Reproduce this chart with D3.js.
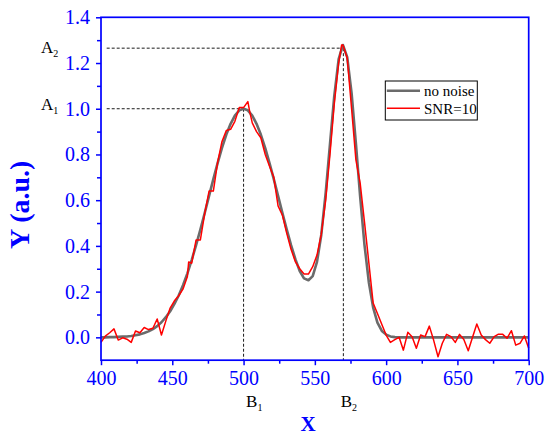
<!DOCTYPE html>
<html><head><meta charset="utf-8">
<script src="https://cdn.jsdelivr.net/npm/d3@7"></script>
<style>
body{margin:0;background:#fff}svg{display:block}
svg text{font-family:"Liberation Serif","Times New Roman","DejaVu Serif",serif}
</style>
</head><body>
<svg id="c" width="550" height="439"></svg>
<script>
// ---------- data ----------
const xTicks = [400, 450, 500, 550, 600, 650, 700];
const xMinorTicks = [425, 475, 525, 575, 625, 675];
const yTicks = [0.0, 0.2, 0.4, 0.6, 0.8, 1.0, 1.2, 1.4];
const yTickLabels = ["0.0", "0.2", "0.4", "0.6", "0.8", "1.0", "1.2", "1.4"];
const yMinorTicks = [0.1, 0.3, 0.5, 0.7, 0.9, 1.1, 1.3];

const gridX = [400.0,403.0,406.1,409.1,412.1,415.2,418.2,421.2,424.2,427.3,430.3,433.3,436.4,439.4,442.4,445.5,448.5,451.5,454.5,457.6,
  460.6,463.6,466.7,469.7,472.7,475.8,478.8,481.8,484.8,487.9,490.9,493.9,497.0,500.0,503.0,506.1,509.1,512.1,515.2,518.2,
  521.2,524.2,527.3,530.3,533.3,536.4,539.4,542.4,545.5,548.5,551.5,554.5,557.6,560.6,563.6,566.7,569.7,572.7,575.8,578.8,
  581.8,584.8,587.9,590.9,593.9,597.0,600.0,603.0,606.1,609.1,612.1,615.2,618.2,621.2,624.2,627.3,630.3,633.3,636.4,639.4,
  642.4,645.5,648.5,651.5,654.5,657.6,660.6,663.6,666.7,669.7,672.7,675.8,678.8,681.8,684.8,687.9,690.9,693.9,697.0,700.0];
const noNoise = [0.000,0.000,0.001,0.001,0.002,0.003,0.004,0.006,0.009,0.013,0.019,0.026,0.036,0.049,0.066,0.088,0.114,0.146,0.183,0.229,
  0.280,0.338,0.403,0.471,0.543,0.619,0.692,0.762,0.828,0.887,0.934,0.970,0.993,1.000,0.993,0.970,0.934,0.887,0.828,0.762,
  0.692,0.619,0.543,0.471,0.403,0.341,0.290,0.258,0.250,0.268,0.330,0.448,0.632,0.844,1.054,1.217,1.279,1.226,1.066,0.848,
  0.614,0.406,0.240,0.130,0.064,0.028,0.012,0.004,0.001,0.000,0.000,0.000,0.000,0.000,0.000,0.000,0.000,0.000,0.000,0.000,
  0.000,0.000,0.000,0.000,0.000,0.000,0.000,0.000,0.000,0.000,0.000,0.000,0.000,0.000,0.000,0.000,0.000,0.000,0.000,0.000];

const snrX = [400.0,403.0,406.1,409.1,412.1,415.2,418.2,421.2,424.2,427.3,430.3,433.3,436.4,439.4,442.4,445.5,448.5,451.5,454.5,457.6,
  460.6,461.5,463.6,466.7,469.7,472.7,475.8,478.8,481.8,484.8,487.9,490.9,493.9,497.0,500.0,503.0,504.5,506.1,509.1,512.1,515.2,518.2,
  521.2,524.2,527.3,530.3,533.3,536.4,539.4,542.4,545.5,548.5,551.5,554.5,557.6,560.6,563.6,566.7,568.8,569.7,572.7,575.8,578.8,
  581.8,584.8,587.9,590.9,593.9,597.0,600.0,603.0,606.1,609.1,612.1,615.2,618.2,621.2,624.2,627.3,630.3,633.3,636.4,639.4,
  642.4,645.5,648.5,651.5,654.5,657.6,660.6,663.6,666.7,669.7,672.7,675.8,678.8,681.8,684.8,687.9,690.9,693.9,697.0,700.0];
const snr10 = [-0.022,0.005,0.020,0.037,-0.012,-0.002,-0.008,-0.022,0.028,0.020,0.043,0.034,0.040,0.080,0.010,0.072,0.128,0.160,0.182,0.212,
  0.266,0.330,0.324,0.426,0.426,0.540,0.640,0.640,0.765,0.855,0.905,0.910,0.945,1.005,1.005,1.031,0.982,0.938,0.900,0.873,0.800,0.748,
  0.700,0.575,0.533,0.455,0.385,0.330,0.300,0.277,0.277,0.309,0.360,0.450,0.600,0.800,1.020,1.200,1.279,1.279,1.222,0.998,0.776,
  0.674,0.505,0.325,0.150,0.104,0.056,0.010,-0.022,-0.010,0.000,-0.056,0.022,0.003,-0.048,0.010,0.003,0.049,-0.012,-0.085,-0.026,
  0.013,0.003,-0.022,0.013,-0.009,-0.059,0.000,0.058,0.010,-0.010,-0.026,0.003,0.014,0.013,-0.004,0.029,-0.034,-0.026,0.006,-0.048];

const seriesNames = ["no noise", "SNR=10"];
const peaks = [
  {name: "A", sub: "1", bname: "B", bsub: "1", x: 500, y: 1.0},
  {name: "A", sub: "2", bname: "B", bsub: "2", x: 570, y: 1.265}
];

// ---------- drawing ----------
const svg = d3.select("#c");
const L = 101, R = 528.7, T = 17.3, B = 360.2;
const x = d3.scaleLinear().domain([400, 700]).range([L, R]);
const y = d3.scaleLinear().domain([-0.1, 1.4]).range([B, T]);
const blue = "#0000ff";
const FONT = '"Liberation Serif","Times New Roman","DejaVu Serif",serif';

svg.append("rect").attr("width", 550).attr("height", 439).attr("fill", "#fff");

// dashed guides
const guides = svg.append("g").attr("stroke", "#000").attr("stroke-width", 0.9)
  .attr("stroke-dasharray", "3,2").attr("fill", "none");
peaks.forEach(p => {
  guides.append("line").attr("x1", x(404)).attr("x2", x(p.x)).attr("y1", y(p.y)).attr("y2", y(p.y));
  guides.append("line").attr("x1", x(p.x)).attr("x2", x(p.x)).attr("y1", y(p.y)).attr("y2", B);
});

// lines
const line = d3.line().x(d => x(d[0])).y(d => y(d[1]));
svg.append("path").datum(gridX.map((v, i) => [v, noNoise[i]]))
  .attr("d", line).attr("fill", "none").attr("stroke", "#6b6b6b").attr("stroke-width", 2.6)
  .attr("stroke-linejoin", "round");
svg.append("path").datum(snrX.map((v, i) => [v, snr10[i]]))
  .attr("d", line).attr("fill", "none").attr("stroke", "#ff0000").attr("stroke-width", 1.5)
  .attr("stroke-linejoin", "round");

// axes
const xAxis = d3.axisBottom(x).tickValues(xTicks).tickSize(5).tickPadding(6).tickFormat(d3.format("d"));
const xMinor = d3.axisBottom(x).tickValues(xMinorTicks).tickSize(3.5).tickFormat("");
const yAxis = d3.axisLeft(y).tickValues(yTicks).tickSize(5).tickPadding(6)
  .tickFormat((d, i) => yTickLabels[i]);
const yMinor = d3.axisLeft(y).tickValues(yMinorTicks).tickSize(4).tickFormat("");

function styleAxis(g) {
  g.attr("font-family", FONT).attr("font-size", 20);
  g.select(".domain").remove();
  g.selectAll("line").attr("stroke", blue).attr("stroke-width", 1.5);
  g.selectAll("text").attr("fill", blue).attr("font-family", FONT).style("font-size", "20px");
}
svg.append("g").attr("transform", `translate(0,${B})`).call(xAxis).call(styleAxis);
svg.append("g").attr("transform", `translate(0,${B})`).call(xMinor).call(styleAxis);
svg.append("g").attr("transform", `translate(${L},0)`).call(yAxis).call(styleAxis);
svg.append("g").attr("transform", `translate(${L},0)`).call(yMinor).call(styleAxis);

// frame
svg.append("rect").attr("x", L).attr("y", T).attr("width", R - L).attr("height", B - T)
  .attr("fill", "none").attr("stroke", blue).attr("stroke-width", 1.7);

// axis titles
svg.append("text").attr("transform", `translate(29,${(T + B) / 2 + 16}) rotate(-90)`)
  .attr("text-anchor", "middle").attr("fill", blue).attr("font-family", FONT)
  .style("font-size", "28px").style("font-weight", "bold")
  .text("Y (a.u.)");
svg.append("text").attr("x", 308).attr("y", 431).attr("text-anchor", "middle").attr("fill", blue)
  .attr("font-family", FONT).style("font-size", "21px").style("font-weight", "bold")
  .text("X");

// annotations
peaks.forEach((p, i) => {
  const ta = svg.append("text").attr("x", 41).attr("y", y(p.y) + (i === 0 ? 1 : 4.5))
    .attr("font-family", FONT).style("font-size", "17px").attr("fill", "#000");
  ta.append("tspan").text(p.name);
  ta.append("tspan").attr("dy", 4).style("font-size", "10px").text(p.sub);
  const tb = svg.append("text").attr("x", x(p.x) + (i === 0 ? 2.5 : -2.7)).attr("y", 406.5)
    .attr("font-family", FONT).style("font-size", "17px").attr("fill", "#000");
  tb.append("tspan").text(p.bname);
  tb.append("tspan").attr("dy", 4).style("font-size", "10px").text(p.bsub);
});

// legend
const lg = svg.append("g").attr("transform", "translate(385.3,81)");
lg.append("rect").attr("width", 92).attr("height", 39).attr("fill", "#fff")
  .attr("stroke", "#000").attr("stroke-width", 1);
const legColors = ["#6b6b6b", "#ff0000"];
const legWidths = [2.6, 1.5];
seriesNames.forEach((n, i) => {
  const yy = 9.7 + i * 17.6;
  lg.append("line").attr("x1", 1.5).attr("x2", 34.7).attr("y1", yy).attr("y2", yy)
    .attr("stroke", legColors[i]).attr("stroke-width", legWidths[i]);
  lg.append("text").attr("x", 38.7).attr("y", yy + 5.5)
    .attr("font-family", FONT).style("font-size", "15px").attr("fill", "#000").text(n);
});
</script>
</body></html>
